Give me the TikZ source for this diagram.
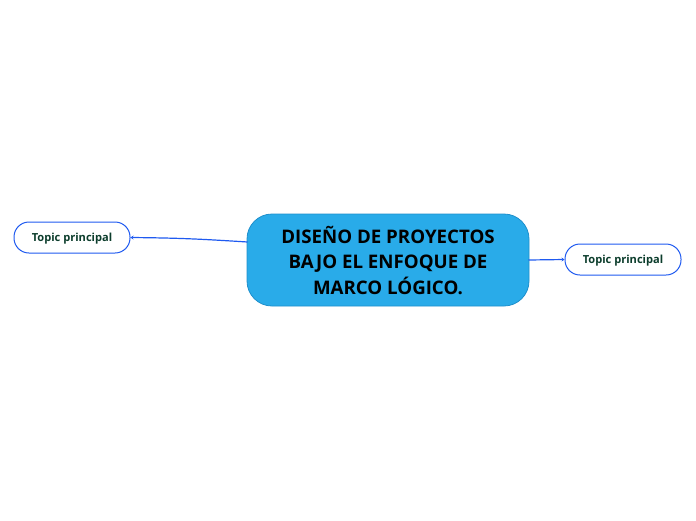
\documentclass[tikz,border=0pt]{standalone}
\usepackage{fontspec}
\setmainfont{Open Sans}
\usetikzlibrary{arrows.meta}
\definecolor{centralfill}{HTML}{29ABE9}
\definecolor{centralborder}{HTML}{1E8FCC}
\definecolor{topicborder}{HTML}{1F5AF0}
\definecolor{topictext}{HTML}{0C3D2C}
\definecolor{linkcol}{HTML}{1F5AF0}
\begin{document}
\begin{tikzpicture}[x=1pt,y=-1pt,
  central/.style={draw=centralborder, fill=centralfill, line width=0.8pt, rounded corners=25pt,
    minimum width=282pt, minimum height=92pt, align=center, inner sep=0pt,
    font=\fontsize{18.7}{25.5}\selectfont\bfseries, text=black},
  topic/.style={draw=topicborder, fill=white, line width=1pt, rounded corners=15pt,
    minimum width=116pt, minimum height=31pt, inner sep=0pt, text height=9pt, text depth=1pt,
    font=\fontsize{11.1}{13}\selectfont\bfseries, text=topictext},
  link/.style={draw=linkcol, line width=1.2pt, -{Stealth[length=3pt,width=4pt]}}]
\useasboundingbox (0,0) rectangle (696,520);
\node[central] (c) at (388,260) {DISEÑO DE PROYECTOS\\BAJO EL ENFOQUE DE\\MARCO LÓGICO.};
\node[topic] (l) at (72,237.5) {Topic principal};
\node[topic] (r) at (623,259.5) {Topic principal};
\coordinate (cl) at (247.5,242);
\coordinate (cr) at (528.5,260);
\draw[link] (cl) .. controls (200,239) and (180,238) .. (l.east);
\draw[link] (cr) -- (r.west);
\end{tikzpicture}
\end{document}
